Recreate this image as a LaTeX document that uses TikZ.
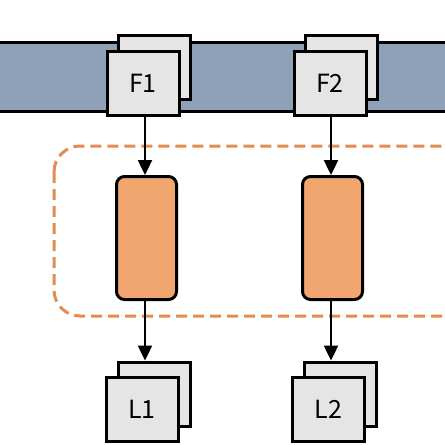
\documentclass[tikz,border=0pt]{standalone}
\usepackage{fontspec}
\setmainfont{Noto Sans CJK SC}
\usetikzlibrary{arrows.meta}
\definecolor{bandblue}{HTML}{8FA0B9}
\definecolor{cardgray}{HTML}{E5E5E5}
\definecolor{unitorange}{HTML}{F1A66F}
\definecolor{dashorange}{HTML}{E38C4F}
\tikzset{
  card/.style={draw=black, line width=3pt, fill=cardgray, minimum width=72pt,
    minimum height=64pt, inner sep=0pt, font=\fontsize{25}{28}\selectfont},
  unit/.style={draw=black, line width=3pt, fill=unitorange, rounded corners=8pt,
    minimum width=60pt, minimum height=123pt, inner sep=0pt},
  flow/.style={-{Triangle[length=15pt,width=14pt]}, line width=2.4pt}
}
\begin{document}
\begin{tikzpicture}[x=1pt,y=-1pt]
      \useasboundingbox (0,0) rectangle (445,445);
      % band and group frame
      \draw[fill=bandblue, line width=3pt] (-10,42) rectangle (460,111);
      \draw[dashorange, line width=3pt, dash pattern=on 11pt off 6pt,
        rounded corners=26pt] (54,146) rectangle (490,316);
      % cards
      \node[card] (F1b) at (154,67.5) {};
      \node[card] (F2b) at (341,67.5) {};
      \node[card] (L1b) at (154.5,394) {};
      \node[card] (L2b) at (340,394) {};
      \node[card] (F1) at (143,83.5) {F1};
      \node[card] (F2) at (330,83.5) {F2};
      \node[card] (L1) at (142,409) {L1};
      \node[card] (L2) at (328.5,409) {L2};
      % units
      \node[unit] (U1) at (146.5,238) {};
      \node[unit] (U2) at (332.5,238) {};
      \begin{scope}[flow]
        \draw (F1.south -| 145,0) to (U1.north -| 145,0);
        \draw (F2.south -| 331,0) to (U2.north -| 331,0);
        \draw (U1.south -| 145,0) to (L1b.north -| 145,0);
        \draw (U2.south -| 331,0) to (L2b.north -| 331,0);
      \end{scope}
    \end{tikzpicture}
\end{document}
